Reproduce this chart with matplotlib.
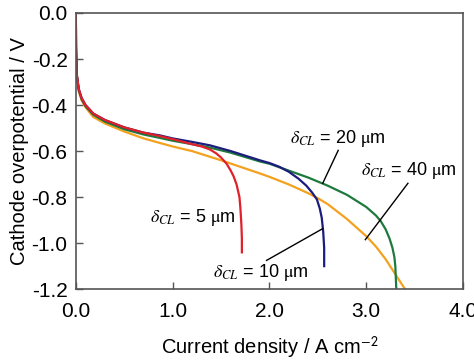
import matplotlib
matplotlib.use("Agg")
import matplotlib.pyplot as plt

plt.rcParams['font.family'] = ['Liberation Sans', 'DejaVu Sans']
plt.rcParams['mathtext.fontset'] = 'stix'

# 5 um
x5 = [0, 0.002, 0.01, 0.03, 0.06, 0.1, 0.18, 0.3, 0.5, 0.7, 0.87, 1.0, 1.2, 1.3, 1.385, 1.45, 1.5, 1.557, 1.6, 1.63, 1.66, 1.69, 1.70, 1.71, 1.715, 1.715]
y5 = [0, -0.15, -0.27, -0.33, -0.37, -0.40, -0.437, -0.465, -0.497, -0.52, -0.535, -0.548, -0.57, -0.58, -0.593, -0.61, -0.628, -0.655, -0.685, -0.71, -0.745, -0.80, -0.85, -0.92, -0.98, -1.04]

# 10 um
x10 = [0, 0.002, 0.01, 0.03, 0.06, 0.1, 0.18, 0.3, 0.5, 0.7, 0.87, 1.0, 1.2, 1.385, 1.6, 1.9, 2.0, 2.1, 2.2, 2.3, 2.38, 2.44, 2.49, 2.52, 2.54, 2.555, 2.565, 2.565]
y10 = [0, -0.15, -0.27, -0.33, -0.37, -0.40, -0.437, -0.465, -0.497, -0.52, -0.532, -0.545, -0.56, -0.575, -0.60, -0.64, -0.652, -0.668, -0.69, -0.72, -0.75, -0.78, -0.81, -0.85, -0.89, -0.95, -1.02, -1.10]

# 20 um
x20 = [0, 0.002, 0.01, 0.03, 0.06, 0.1, 0.18, 0.3, 0.5, 0.7, 0.87, 1.0, 1.2, 1.385, 1.6, 1.9, 2.0, 2.2, 2.4, 2.6, 2.8, 3.0, 3.1, 3.15, 3.2, 3.24, 3.27, 3.29, 3.3, 3.305, 3.31]
y20 = [0, -0.15, -0.27, -0.335, -0.375, -0.405, -0.442, -0.472, -0.505, -0.528, -0.543, -0.555, -0.57, -0.585, -0.607, -0.645, -0.655, -0.685, -0.715, -0.75, -0.79, -0.843, -0.88, -0.905, -0.94, -0.98, -1.02, -1.06, -1.10, -1.15, -1.2]

# 40 um
x40 = [0, 0.002, 0.005, 0.01, 0.03, 0.06, 0.1, 0.18, 0.3, 0.5, 0.7, 0.87, 1.0, 1.2, 1.5, 1.9, 2.0, 2.2, 2.4, 2.5, 2.6, 2.8, 3.0, 3.1, 3.2, 3.3, 3.4]
y40 = [0, -0.12, -0.2, -0.27, -0.34, -0.38, -0.41, -0.452, -0.48, -0.515, -0.545, -0.565, -0.58, -0.6, -0.64, -0.697, -0.712, -0.745, -0.783, -0.805, -0.83, -0.895, -0.97, -1.015, -1.07, -1.135, -1.2]

colors = {'5': '#e0202a', '10': '#1c1c7c', '20': '#1e7a3c', '40': '#f4a11e'}

fig = plt.figure(figsize=(4.74, 3.61), dpi=100)
ax = fig.add_axes([0.160, 0.199, 0.817, 0.765])

ax.plot(x40, y40, color=colors['40'], lw=1.6)
ax.plot(x20, y20, color=colors['20'], lw=1.6)
ax.plot(x10, y10, color=colors['10'], lw=1.6)
ax.plot(x5, y5, color=colors['5'], lw=1.6)

ax.set_xlim(0, 4.0)
ax.set_ylim(-1.2, 0.0)
ax.set_xticks([0, 1, 2, 3, 4])
ax.set_xticklabels(['0.0', '1.0', '2.0', '3.0', '4.0'])
ax.set_yticks([0, -0.2, -0.4, -0.6, -0.8, -1.0, -1.2])
ax.set_yticklabels(['0.0', '-0.2', '-0.4', '-0.6', '-0.8', '-1.0', '-1.2'])
ax.tick_params(direction='in', length=5, width=1, color='#555555', labelsize=15)
ax.tick_params(axis='x', pad=9)
ax.tick_params(axis='y', pad=6)
for s in ax.spines.values():
    s.set_color('#555555')
    s.set_linewidth(1.2)

ax.set_xlabel('Current density / A cm$^{\\mathsf{-2}}$', fontsize=14.5, labelpad=10)
ax.set_ylabel('Cathode overpotential / V', fontsize=14.5, labelpad=2)

fs = 13
ax.text(2.21, -0.545, r'$\delta_{CL}$ = 20 $\mathrm{\mu}$m', fontsize=fs, va='center', ha='left')
ax.text(2.95, -0.684, r'$\delta_{CL}$ = 40 $\mathrm{\mu}$m', fontsize=fs, va='center', ha='left')
ax.text(0.765, -0.888, r'$\delta_{CL}$ = 5 $\mathrm{\mu}$m', fontsize=fs, va='center', ha='left')
ax.text(1.42, -1.127, r'$\delta_{CL}$ = 10 $\mathrm{\mu}$m', fontsize=fs, va='center', ha='left')

ax.plot([2.71, 2.55], [-0.597, -0.74], color='black', lw=1)
ax.plot([3.43, 2.99], [-0.74, -0.985], color='black', lw=1)
ax.plot([2.55, 1.97], [-0.937, -1.075], color='black', lw=1)

fig.savefig('out.png', dpi=100)
